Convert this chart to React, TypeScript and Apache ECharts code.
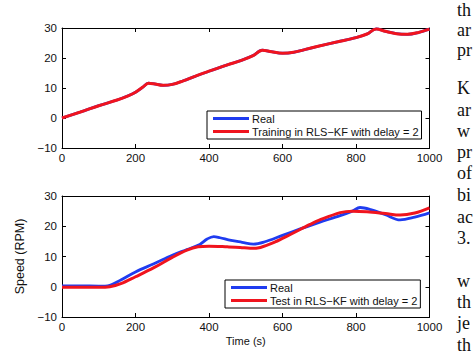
import React, { useEffect, useRef } from "react";
import * as echarts from "echarts";

// ---- data ----
const xTicks = [0, 200, 400, 600, 800, 1000];
const yTicks = [-10, 0, 10, 20, 30];

const topTime = [0, 50, 100, 150, 180, 200, 220, 235, 250, 275, 300, 330, 360, 400, 450, 490, 520, 545, 570, 600, 630, 660, 700, 750, 800, 830, 855, 880, 910, 940, 970, 1000];
const topReal = [0, 2.0, 4.1, 6.0, 7.4, 8.6, 10.3, 11.6, 11.4, 10.9, 11.2, 12.4, 13.8, 15.6, 17.7, 19.3, 20.8, 22.6, 22.1, 21.6, 21.9, 22.8, 24.0, 25.4, 26.8, 28.0, 29.7, 28.9, 28.1, 27.9, 28.5, 29.6];
const topTraining = [0, 2.0, 4.1, 6.0, 7.4, 8.6, 10.3, 11.6, 11.4, 10.9, 11.2, 12.4, 13.8, 15.6, 17.7, 19.3, 20.8, 22.6, 22.1, 21.6, 21.9, 22.8, 24.0, 25.4, 26.8, 28.0, 29.7, 28.9, 28.1, 27.9, 28.5, 29.6];

const botRealTime = [0, 50, 100, 130, 160, 200, 250, 300, 340, 375, 395, 413, 430, 460, 490, 521, 550, 600, 650, 700, 757, 790, 811, 840, 880, 920, 960, 1000];
const botReal = [0.3, 0.3, 0.2, 0.5, 2.2, 4.9, 7.6, 10.4, 12.3, 14.0, 15.8, 16.6, 16.2, 15.3, 14.7, 14.1, 14.8, 17.0, 19.2, 21.3, 23.5, 25.0, 26.2, 25.5, 23.8, 22.1, 23.0, 24.4];

const botTestTime = [0, 50, 100, 130, 160, 200, 250, 300, 340, 370, 400, 450, 485, 512, 540, 580, 620, 675, 700, 757, 790, 830, 880, 920, 960, 1000];
const botTest = [-0.2, -0.2, -0.2, 0.0, 1.0, 3.3, 6.3, 9.7, 12.1, 13.2, 13.4, 13.2, 13.0, 12.7, 13.0, 14.8, 17.2, 20.6, 22.0, 24.5, 25.0, 24.8, 24.2, 23.7, 24.4, 26.1];

const sideText = ["th", "ar", "pr", "K", "ar", "w", "pr", "of", "bi", "ac", "3.", "w", "th", "je", "th"];
const sideY = [10, 30, 50, 88, 110, 131, 152, 173, 195, 217, 238, 281, 302, 323, 345];

const nameReal = "Real";
const nameTrain = "Training in RLS\u2212KF with delay = 2";
const nameTest = "Test in RLS\u2212KF with delay = 2";

const BLUE = "#1f3cf0";
const RED = "#f0141e";
const FONT = "Liberation Sans, Arial, sans-serif";

function pairs(t: number[], v: number[]) {
  return t.map((x, i) => [x, v[i]]);
}

export default function App() {
  const ref = useRef<HTMLDivElement>(null);
  useEffect(() => {
    if (!ref.current) return;
    const chart = echarts.init(ref.current, undefined, { renderer: "svg" });
    const grids = [
      { left: 62, top: 28, width: 367.5, height: 120 },
      { left: 62, top: 196, width: 367.5, height: 121 },
    ];
    const fmt = (v: number) => String(v).replace("-", "\u2212");
    const mkX = (gi: number, main: boolean) => ({
      type: "value",
      gridIndex: gi,
      position: main ? "bottom" : "top",
      min: xTicks[0],
      max: xTicks[xTicks.length - 1],
      interval: xTicks[1] - xTicks[0],
      splitLine: { show: false },
      axisLine: { show: true, onZero: false, lineStyle: { color: "#000", width: 1 } },
      axisTick: { show: true, inside: true, length: 4, lineStyle: { color: "#000" } },
      axisLabel: {
        show: main,
        margin: 4,
        color: "#111",
        fontSize: 11.5,
        fontFamily: FONT,
        formatter: fmt,
      },
      name: main && gi === 1 ? "Time (s)" : "",
      nameLocation: "middle",
      nameGap: 18,
      nameTextStyle: { color: "#111", fontSize: 11, fontFamily: FONT },
    });
    const mkY = (gi: number, main: boolean) => ({
      type: "value",
      gridIndex: gi,
      position: main ? "left" : "right",
      min: yTicks[0],
      max: yTicks[yTicks.length - 1],
      interval: yTicks[1] - yTicks[0],
      splitLine: { show: false },
      axisLine: { show: true, onZero: false, lineStyle: { color: "#000", width: 1 } },
      axisTick: { show: true, inside: true, length: 4, lineStyle: { color: "#000" } },
      axisLabel: {
        show: main,
        margin: 5,
        color: "#111",
        fontSize: 11.5,
        fontFamily: FONT,
        formatter: fmt,
      },
      name: main && gi === 1 ? "Speed (RPM)" : "",
      nameLocation: "middle",
      nameGap: 25,
      nameTextStyle: { color: "#111", fontSize: 12.5, fontFamily: FONT },
    });
    const lineSeries = (name: string, data: number[][], color: string, gi: number, w: number) => ({
      type: "line",
      name,
      xAxisIndex: gi * 2,
      yAxisIndex: gi * 2,
      data,
      smooth: 0.35,
      showSymbol: false,
      symbol: "none",
      lineStyle: { color, width: w },
      itemStyle: { color },
    });
    const mkLegend = (left: number, top: number, data: string[]) => ({
      left,
      top,
      orient: "vertical",
      data,
      backgroundColor: "#fff",
      borderColor: "#000",
      borderWidth: 1,
      borderRadius: 0,
      padding: [2, 3, 2, 6],
      itemGap: 2,
      itemWidth: 36,
      itemHeight: 3,
      icon: "rect",
      selectedMode: false,
      textStyle: { color: "#111", fontSize: 11, fontFamily: FONT, padding: [0, 0, 0, -2] },
    });
    chart.setOption({
      animation: false,
      backgroundColor: "#fff",
      grid: grids,
      xAxis: [mkX(0, true), mkX(0, false), mkX(1, true), mkX(1, false)],
      yAxis: [mkY(0, true), mkY(0, false), mkY(1, true), mkY(1, false)],
      legend: [
        mkLegend(207, 111, [nameReal, nameTrain]),
        mkLegend(225, 280, [nameReal, nameTest]),
      ],
      series: [
        lineSeries(nameReal, pairs(topTime, topReal), BLUE, 0, 2.8),
        lineSeries(nameTrain, pairs(topTime, topTraining), RED, 0, 3),
        lineSeries(nameReal, pairs(botRealTime, botReal), BLUE, 1, 2.8),
        lineSeries(nameTest, pairs(botTestTime, botTest), RED, 1, 3),
      ],
      graphic: sideText.map((t, i) => ({
        type: "text",
        x: 457,
        y: sideY[i],
        style: {
          text: t,
          fill: "#111",
          font: "18px 'Liberation Serif', 'Times New Roman', serif",
          verticalAlign: "middle",
        },
      })),
    });
    return () => chart.dispose();
  }, []);
  return (
    <div
      ref={ref}
      style={{ position: "fixed", left: 0, top: 0, width: 474, height: 356 }}
    />
  );
}
